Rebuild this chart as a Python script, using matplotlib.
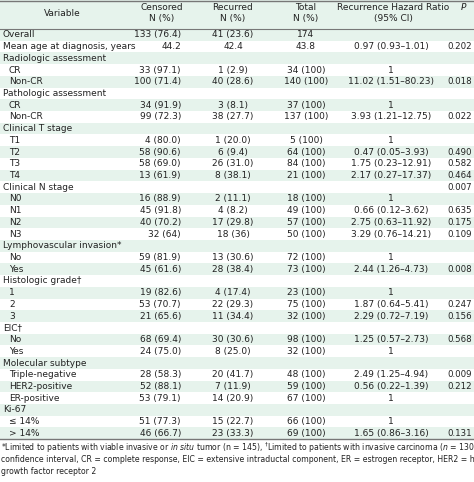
import matplotlib
matplotlib.use("Agg")
import matplotlib.pyplot as plt
from matplotlib.patches import Rectangle

variables = ["Overall", "Mean age at diagnosis, years", "Radiologic assessment", "CR", "Non-CR",
             "Pathologic assessment", "CR", "Non-CR", "Clinical T stage", "T1", "T2", "T3", "T4",
             "Clinical N stage", "N0", "N1", "N2", "N3", "Lymphovascular invasion*", "No", "Yes",
             "Histologic grade\u2020", "1", "2", "3", "EIC\u2020", "No", "Yes", "Molecular subtype",
             "Triple-negative", "HER2-positive", "ER-positive", "Ki-67", "\u2264 14%", "> 14%"]
indent = [0, 0, 0, 1, 1, 0, 1, 1, 0, 1, 1, 1, 1, 0, 1, 1, 1, 1, 0, 1, 1, 0, 1, 1, 1, 0, 1, 1, 0,
          1, 1, 1, 0, 1, 1]
censored = ["133 (76.4)", "44.2", "", "33 (97.1)", "100 (71.4)", "", "34 (91.9)", "99 (72.3)", "",
            "4 (80.0)", "58 (90.6)", "58 (69.0)", "13 (61.9)", "", "16 (88.9)", "45 (91.8)",
            "40 (70.2)", "32 (64)", "", "59 (81.9)", "45 (61.6)", "", "19 (82.6)", "53 (70.7)",
            "21 (65.6)", "", "68 (69.4)", "24 (75.0)", "", "28 (58.3)", "52 (88.1)", "53 (79.1)",
            "", "51 (77.3)", "46 (66.7)"]
recurred = ["41 (23.6)", "42.4", "", "1 (2.9)", "40 (28.6)", "", "3 (8.1)", "38 (27.7)", "",
            "1 (20.0)", "6 (9.4)", "26 (31.0)", "8 (38.1)", "", "2 (11.1)", "4 (8.2)", "17 (29.8)",
            "18 (36)", "", "13 (30.6)", "28 (38.4)", "", "4 (17.4)", "22 (29.3)", "11 (34.4)", "",
            "30 (30.6)", "8 (25.0)", "", "20 (41.7)", "7 (11.9)", "14 (20.9)", "", "15 (22.7)",
            "23 (33.3)"]
total = ["174", "43.8", "", "34 (100)", "140 (100)", "", "37 (100)", "137 (100)", "", "5 (100)",
         "64 (100)", "84 (100)", "21 (100)", "", "18 (100)", "49 (100)", "57 (100)", "50 (100)", "",
         "72 (100)", "73 (100)", "", "23 (100)", "75 (100)", "32 (100)", "", "98 (100)", "32 (100)",
         "", "48 (100)", "59 (100)", "67 (100)", "", "66 (100)", "69 (100)"]
hr = ["", "0.97 (0.93\u20131.01)", "", "1", "11.02 (1.51\u201380.23)", "", "1", "3.93 (1.21\u201312.75)",
      "", "1", "0.47 (0.05\u20133.93)", "1.75 (0.23\u201312.91)", "2.17 (0.27\u201317.37)", "", "1",
      "0.66 (0.12\u20133.62)", "2.75 (0.63\u201311.92)", "3.29 (0.76\u201314.21)", "", "1",
      "2.44 (1.26\u20134.73)", "", "1", "1.87 (0.64\u20135.41)", "2.29 (0.72\u20137.19)", "",
      "1.25 (0.57\u20132.73)", "1", "", "2.49 (1.25\u20134.94)", "0.56 (0.22\u20131.39)", "1", "", "1",
      "1.65 (0.86\u20133.16)"]
pvals = ["", "0.202", "", "", "0.018", "", "", "0.022", "", "", "0.490", "0.582", "0.464", "0.007",
         "", "0.635", "0.175", "0.109", "", "", "0.008", "", "", "0.247", "0.156", "", "0.568", "",
         "", "0.009", "0.212", "", "", "", "0.131"]

W, H = 474, 482
fig = plt.figure(figsize=(W / 100, H / 100), dpi=100)
ax = fig.add_axes([0, 0, 1, 1])
ax.set_xlim(0, W)
ax.set_ylim(H, 0)
ax.axis("off")

fs = 6.5
green = "#e6f3ec"
tc = "#222222"
top = 29.0
rh = 11.72
ax.add_patch(Rectangle((0, 0), W, top, color=green, lw=0))
for i in range(len(variables)):
    y0 = top + i * rh
    if i % 2 == 0:
        ax.add_patch(Rectangle((0, y0), W, rh, color=green, lw=0))
    yc = y0 + rh / 2
    ax.text(3 + 6 * indent[i], yc, variables[i], fontsize=fs, va="center", ha="left", color=tc)
    ax.text(181, yc, censored[i], fontsize=fs, va="center", ha="right", color=tc)
    ax.text(233, yc, recurred[i], fontsize=fs, va="center", ha="center", color=tc)
    ax.text(306, yc, total[i], fontsize=fs, va="center", ha="center", color=tc)
    ax.text(391, yc, hr[i], fontsize=fs, va="center", ha="center", color=tc)
    ax.text(472, yc, pvals[i], fontsize=fs - 0.3, va="center", ha="right", color=tc)

bottom = top + len(variables) * rh
ax.plot([0, W], [0.5, 0.5], color="#777777", lw=1)
ax.plot([0, W], [top, top], color="#777777", lw=0.8)
ax.plot([0, W], [bottom, bottom], color="#777777", lw=1)

headers = [(162, "Censored"), (233, "Recurred"), (306, "Total")]
for x, t in headers:
    ax.text(x, 7, t, fontsize=fs, ha="center", va="center", color=tc)
    ax.text(x, 19, "N (%)", fontsize=fs, ha="center", va="center", color=tc)
ax.text(393, 7, "Recurrence Hazard Ratio", fontsize=fs, ha="center", va="center", color=tc)
ax.text(393, 19, "(95% CI)", fontsize=fs, ha="center", va="center", color=tc)
ax.text(62, 13, "Variable", fontsize=fs, ha="center", va="center", color=tc)
ax.text(463, 7, "P", fontsize=fs, ha="center", va="center", color=tc, style="italic")

foot = [r"*Limited to patients with viable invasive or $\it{in\ situ}$ tumor (n = 145), $^{\dagger}$Limited to patients with invasive carcinoma ($\it{n}$ = 130). CI =",
        "confidence interval, CR = complete response, EIC = extensive intraductal component, ER = estrogen receptor, HER2 = human epidermal",
        "growth factor receptor 2"]
for k, t in enumerate(foot):
    ax.text(1, bottom + 9 + k * 11.5, t, fontsize=5.55, ha="left", va="center", color=tc)

fig.savefig("out.png", dpi=100)
